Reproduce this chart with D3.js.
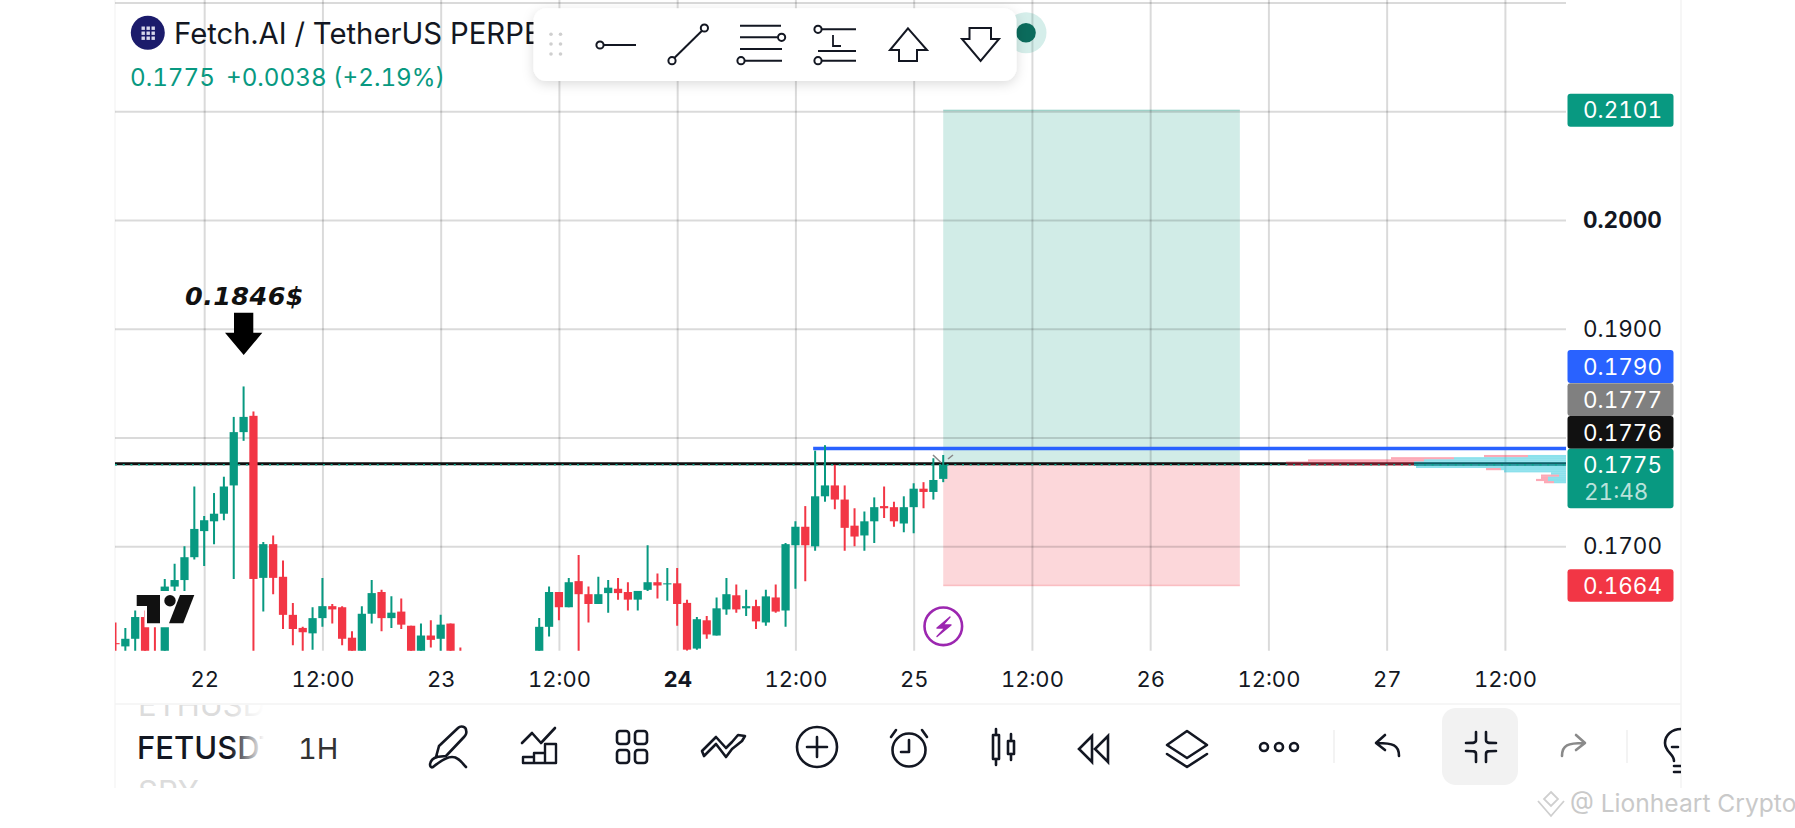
<!DOCTYPE html>
<html>
<head>
<meta charset="utf-8">
<style>
  html, body { margin: 0; padding: 0; background: #fff; overflow: hidden; }
  text { font-family: Inter, Roboto, sans-serif; font-feature-settings: 'tnum'; }
</style>
<script src="https://cdn.jsdelivr.net/npm/d3@7"></script>
</head>
<body>
<svg id="chart" width="1795" height="828"></svg>
<script>
// hours counted from 22nd 00:00, one candle per hour
const candleHours = [
  -9,-8,-7,-6,-5,-4,-3,-2,-1,0,
  1,2,3,4,5,6,7,8,9,10,
  11,12,13,14,15,16,17,18,19,20,
  21,22,23,24,25,26,34,35,36,37,
  38,39,40,41,42,43,44,45,46,47,
  48,49,50,51,52,53,54,55,56,57,
  58,59,60,61,62,63,64,65,66,67,
  68,69,70,71,72,73,74,75
]
const candleOpen = [
  .1611,.1608,.1615,.1635,.1634,.1600,.1663,.1669,.1690,.1714,
  .1723,.1730,.1756,.1805,.1820,.1671,.1702,.1672,.1637,.1625,
  .1620,.1634,.1645,.1644,.1616,.1600,.1638,.1658,.1634,.1640,
  .1627,.1600,.1618,.1615,.1629,.1600,.1600,.1626,.1658,.1644,
  .1668,.1656,.1647,.1657,.1661,.1658,.1651,.1660,.1667,.1665,
  .1666,.1648,.1606,.1632,.1618,.1642,.1655,.1643,.1645,.1630,
  .1653,.1641,.1701,.1718,.1700,.1746,.1756,.1743,.1719,.1710,
  .1723,.1737,.1736,.1721,.1736,.1753,.1750,.1762
]
const candleHigh = [
  .1630,.1625,.1641,.1641,.1635,.1670,.1684,.1700,.1755,.1728,
  .1749,.1764,.1819,.1847,.1824,.1704,.1710,.1687,.1648,.1626,
  .1644,.1671,.1647,.1645,.1622,.1645,.1669,.1660,.1654,.1652,
  .1627,.1629,.1632,.1637,.1629,.1607,.1634,.1663,.1658,.1671,
  .1692,.1663,.1672,.1669,.1671,.1667,.1659,.1701,.1675,.1680,
  .1680,.1651,.1635,.1636,.1653,.1671,.1665,.1660,.1651,.1660,
  .1665,.1703,.1723,.1737,.1788,.1793,.1775,.1756,.1735,.1732,
  .1745,.1755,.1741,.1746,.1758,.1759,.1781,.1784
]
const candleLow = [
  .1600,.1600,.1600,.1598,.1600,.1598,.1658,.1659,.1688,.1682,
  .1702,.1724,.1670,.1797,.1598,.1640,.1656,.1624,.1609,.1600,
  .1605,.1626,.1629,.1609,.1598,.1598,.1629,.1622,.1625,.1624,
  .1598,.1598,.1607,.1600,.1598,.1590,.1598,.1617,.1632,.1644,
  .1600,.1630,.1647,.1639,.1651,.1641,.1641,.1659,.1652,.1650,
  .1627,.1604,.1605,.1615,.1618,.1637,.1639,.1636,.1624,.1627,
  .1639,.1626,.1661,.1668,.1696,.1741,.1734,.1696,.1700,.1696,
  .1703,.1726,.1718,.1713,.1712,.1735,.1743,.1759
]
const candleClose = [
  .1610,.1615,.1635,.1600,.1628,.1663,.1669,.1690,.1716,.1724,
  .1730,.1755,.1805,.1819,.1670,.1702,.1671,.1637,.1624,.1621,
  .1634,.1645,.1642,.1615,.1600,.1638,.1657,.1634,.1639,.1628,
  .1600,.1618,.1614,.1628,.1600,.1595,.1626,.1658,.1644,.1667,
  .1656,.1647,.1656,.1662,.1657,.1651,.1659,.1667,.1664,.1666,
  .1647,.1605,.1633,.1619,.1643,.1656,.1642,.1645,.1631,.1654,
  .1640,.1702,.1718,.1701,.1746,.1756,.1743,.1717,.1709,.1723,
  .1736,.1735,.1723,.1736,.1753,.1750,.1761,.1775
]

// axis
const timeTicks  = [0,12,24,36,48,60,72,84,96,108,120,132]
const timeLabels = ['22','12:00','23','12:00','24','12:00','25','12:00','26','12:00','27','12:00']
const gridPrices  = [0.17,0.18,0.19,0.20,0.21,0.22]
const priceTicks  = [0.17,0.19,0.20]
const boldPrice   = 0.20

// long position tool, horizontal lines
const positionHours = [75,105.1]
const targetPrice = 0.2101
const entryPrice  = 0.1776
const stopPrice   = 0.1664
const bluePrice   = 0.1790
const bluePriceStart = 61.8
const lastPrice   = 0.1775

// volume profile on the right
const profilePrices = [.1783,.1781,.1779,.1777,.1775,.1773,.1771,.1769,.1767,.1765,.1763,.1761,.1759]
const profileUp     = [38,112,142,152,152,150,65,62,15,7,18,18,12]
const profileDown   = [82,175,258,280,280,138,80,0,0,25,25,30,22]
const profilePoc    = .1775

// boxes on the price scale
const boxPrices = ['0.2101','0.1790','0.1777','0.1776','0.1775','0.1664']
const boxColors = ['#089981','#2962ff','#808080','#111111','#089981','#f23645']
const countdown = '21:48'

const upColor   = '#089981'
const downColor = '#f23645'
const gridColor = 'rgba(0,0,0,0.145)'
const ink = '#131722'

const plot = { left: 115, right: 1566, top: 0, bottom: 650.7 }

const xScale = d3.scaleLinear().domain([-9.05,138.2]).range([plot.left,plot.right])
const yScale = d3.scaleLinear().domain([0.16,0.22]).range([655.1,2.5])
const volScale = d3.scaleLinear().domain([0,300]).range([0,300])

const svg = d3.select('#chart')

const defs = svg.append('defs')
defs.append('clipPath').attr('id','plot-clip')
  .append('rect')
  .attr('x',plot.left).attr('y',plot.top)
  .attr('width',plot.right-plot.left).attr('height',plot.bottom-plot.top)
defs.append('clipPath').attr('id','title-clip')
  .append('rect').attr('x',100).attr('y',0).attr('width',434).attr('height',90)
defs.append('clipPath').attr('id','symbol-clip')
  .append('rect').attr('x',115).attr('y',705).attr('width',149).attr('height',83)
defs.append('clipPath').attr('id','bulb-clip')
  .append('rect').attr('x',1640).attr('y',720).attr('width',41).attr('height',60)

// the symbol names fade out at their right end
const fade = defs.append('linearGradient').attr('id','symbol-fade')
  .attr('gradientUnits','userSpaceOnUse').attr('x1',230).attr('x2',264).attr('y1',0).attr('y2',0)
fade.append('stop').attr('offset',0).attr('stop-color','#fff').attr('stop-opacity',0)
fade.append('stop').attr('offset',1).attr('stop-color','#fff').attr('stop-opacity',1)

defs.append('filter').attr('id','pop-shadow')
  .attr('x','-10%').attr('y','-30%').attr('width','120%').attr('height','170%')
  .append('feDropShadow').attr('dx',0).attr('dy',3).attr('stdDeviation',6)
  .attr('flood-color','#000').attr('flood-opacity',0.14)

// frame lines of the app
svg.append('line').attr('x1',115).attr('x2',115).attr('y1',0).attr('y2',788).attr('stroke','#f6f6f6').attr('stroke-width',1.5)
svg.append('line').attr('x1',1681).attr('x2',1681).attr('y1',0).attr('y2',788).attr('stroke','#f3f3f3').attr('stroke-width',1.5)
svg.append('line').attr('x1',115).attr('x2',1681).attr('y1',704).attr('y2',704).attr('stroke','#f3f3f3').attr('stroke-width',1.5)

const under = svg.append('g').attr('clip-path','url(#plot-clip)')

// position tool
under.append('rect')
  .attr('x',xScale(positionHours[0])).attr('width',xScale(positionHours[1])-xScale(positionHours[0]))
  .attr('y',yScale(targetPrice)).attr('height',yScale(entryPrice)-yScale(targetPrice))
  .attr('fill',upColor).attr('fill-opacity',0.19)
under.append('rect')
  .attr('x',xScale(positionHours[0])).attr('width',xScale(positionHours[1])-xScale(positionHours[0]))
  .attr('y',yScale(entryPrice)).attr('height',yScale(stopPrice)-yScale(entryPrice))
  .attr('fill',downColor).attr('fill-opacity',0.2)
under.append('line')
  .attr('x1',xScale(positionHours[0])).attr('x2',xScale(positionHours[1]))
  .attr('y1',yScale(targetPrice)).attr('y2',yScale(targetPrice))
  .attr('stroke',upColor).attr('stroke-opacity',0.25).attr('stroke-width',1.5)
under.append('line')
  .attr('x1',xScale(positionHours[0])).attr('x2',xScale(positionHours[1]))
  .attr('y1',yScale(stopPrice)).attr('y2',yScale(stopPrice))
  .attr('stroke',downColor).attr('stroke-opacity',0.25).attr('stroke-width',1.5)

// grid, through the axes
const gridX = svg.append('g')
  .attr('transform',`translate(0,${plot.bottom})`)
  .call(d3.axisBottom(xScale).tickValues(timeTicks).tickSize(-plot.bottom).tickFormat(''))
  .call(g => g.select('.domain').remove())
gridX.selectAll('.tick line').attr('stroke',gridColor).attr('stroke-width',2)

const gridY = svg.append('g')
  .attr('transform',`translate(${plot.left},0)`)
  .call(d3.axisLeft(yScale).tickValues(gridPrices).tickSize(-(plot.right-plot.left)).tickFormat(''))
  .call(g => g.select('.domain').remove())
gridY.selectAll('.tick line').attr('stroke',gridColor).attr('stroke-width',2)

// time labels
const xAxis = svg.append('g')
  .attr('transform',`translate(0,${plot.bottom})`)
  .call(d3.axisBottom(xScale).tickValues(timeTicks).tickSize(0).tickFormat((d,i) => timeLabels[i]))
  .call(g => g.select('.domain').remove())
xAxis.selectAll('text')
  .attr('y',36).attr('dy',0)
  .style('font-size','22px')
  .style('fill',ink)
  .style('font-weight',d => d === 48 ? 700 : 400)

// price labels
const yAxis = svg.append('g')
  .attr('transform','translate(1583,0)')
  .call(d3.axisRight(yScale).tickValues(priceTicks).tickSize(0).tickPadding(0).tickFormat(d3.format('.4f')))
  .call(g => g.select('.domain').remove())
yAxis.selectAll('text')
  .style('font-size','22.5px')
  .style('fill',ink)
  .style('font-weight',d => d === boldPrice ? 700 : 400)

const chart = svg.append('g').attr('clip-path','url(#plot-clip)')

// black line, then the profile over it
chart.append('line')
  .attr('x1',plot.left).attr('x2',plot.right)
  .attr('y1',yScale(entryPrice)).attr('y2',yScale(entryPrice))
  .attr('stroke','#111').attr('stroke-width',3)

const rowHeight = yScale(0.1700)-yScale(0.1702)
chart.selectAll('.profile-down')
  .data(profilePrices)
  .join('rect')
  .attr('class','profile-down')
  .attr('x',(d,i) => plot.right-volScale(profileDown[i]))
  .attr('width',(d,i) => Math.max(0,volScale(profileDown[i])-volScale(profileUp[i])))
  .attr('y',d => yScale(d)-rowHeight/2)
  .attr('height',rowHeight)
  .attr('fill','#f73250').attr('fill-opacity',0.42)
chart.selectAll('.profile-up')
  .data(profilePrices)
  .join('rect')
  .attr('class','profile-up')
  .attr('x',(d,i) => plot.right-volScale(profileUp[i]))
  .attr('width',(d,i) => volScale(profileUp[i]))
  .attr('y',d => yScale(d)-rowHeight/2)
  .attr('height',rowHeight)
  .attr('fill',d => d === profilePoc ? '#26969f' : '#00bcd4')
  .attr('fill-opacity',d => d === profilePoc ? 1 : 0.45)

// last price dots
chart.append('line')
  .attr('x1',plot.left).attr('x2',plot.right)
  .attr('y1',yScale(lastPrice)).attr('y2',yScale(lastPrice))
  .attr('stroke','#0aa58c').attr('stroke-width',1.5).attr('stroke-dasharray','2 5.7')

// blue line
chart.append('line')
  .attr('x1',xScale(bluePriceStart)).attr('x2',plot.right)
  .attr('y1',yScale(bluePrice)).attr('y2',yScale(bluePrice))
  .attr('stroke','#2962ff').attr('stroke-width',3.5)

// candles
const bodyWidth = xScale(1)-xScale(0)-1.6
const candles = chart.append('g')
candles.selectAll('.wick')
  .data(candleHours)
  .join('line')
  .attr('class','wick')
  .attr('x1',d => xScale(d)).attr('x2',d => xScale(d))
  .attr('y1',(d,i) => yScale(candleHigh[i]))
  .attr('y2',(d,i) => yScale(candleLow[i]))
  .attr('stroke',(d,i) => candleClose[i] >= candleOpen[i] ? upColor : downColor)
  .attr('stroke-width',2)
candles.selectAll('.body')
  .data(candleHours)
  .join('rect')
  .attr('class','body')
  .attr('x',d => xScale(d)-bodyWidth/2)
  .attr('width',bodyWidth)
  .attr('y',(d,i) => yScale(Math.max(candleOpen[i],candleClose[i])))
  .attr('height',(d,i) => Math.abs(yScale(candleOpen[i])-yScale(candleClose[i])))
  .attr('fill',(d,i) => candleClose[i] >= candleOpen[i] ? upColor : downColor)

// small grey marks round the last candle
svg.append('path').attr('d','M933,455L941,462.5M948,459L953,455')
  .attr('stroke','#888').attr('stroke-width',1.6).attr('fill','none')

// tradingview logo with its white backing
svg.append('path').attr('d','M133,591H198V612L186,627.3H144.5V609.5H133Z').attr('fill','#fff')
const logo = svg.append('g').attr('fill','#111')
logo.append('path').attr('d','M136.7,595H160V623.3H147V606H136.7Z')
logo.append('circle').attr('cx',170).attr('cy',600.7).attr('r',5.7)
logo.append('path').attr('d','M180,595H194.3L183.3,623.3H169Z')

// note and arrow over the top
svg.append('text').text('0.1846$')
  .attr('x',185).attr('y',305)
  .style('font-family','"DejaVu Sans", sans-serif')
  .style('font-size','25.5px').style('font-weight',700).style('font-style','italic')
  .style('letter-spacing','0.4px').style('fill','#111')
svg.append('path').attr('d','M234,312.7H253.3V332.7H262.3L243.7,355L225,332.7H234Z').attr('fill','#000')

// lightning mark
svg.append('circle').attr('cx',943.3).attr('cy',626.3).attr('r',18.8)
  .attr('fill','#fff').attr('stroke','#9c27b0').attr('stroke-width',2.6)
svg.append('path').attr('d','M950,617L937,628H945L937,636.5L951,625H943Z')
  .attr('fill','#9c27b0').attr('stroke','#9c27b0').attr('stroke-width',1.4).attr('stroke-linejoin','round')

// price boxes stack on the scale
const boxes = svg.append('g')
const boxHeights = [33,33,32.7,32.7,59.6,32.4]
const boxY = [93.7,350,383.3,416,448.7,569.3]
boxPrices.forEach((label,i) => {
  const top = boxY[i]
  boxes.append('rect').attr('x',1567.5).attr('y',top).attr('width',106).attr('height',boxHeights[i])
    .attr('rx',3).attr('fill',boxColors[i])
  boxes.append('text').text(label).attr('x',1583).attr('y',top+24.5)
    .style('font-size','22.5px').style('fill','#fff')
})
boxes.append('text').text(countdown).attr('x',1584).attr('y',500)
  .style('font-size','22.5px').style('fill','#fff').style('fill-opacity',0.72)

// header
svg.append('circle').attr('cx',147.8).attr('cy',32.7).attr('r',17).attr('fill','#1b1b6b')
const headerDots = d3.range(9)
svg.append('g').selectAll('rect').data(headerDots).join('rect')
  .attr('x',d => 141.5+(d%3)*5).attr('y',d => 26.5+Math.floor(d/3)*5)
  .attr('width',3.4).attr('height',3.4).attr('fill','#d8d8ec')
svg.append('g').attr('clip-path','url(#title-clip)')
  .append('text').text('Fetch.AI / TetherUS PERPETUAL')
  .attr('x',174).attr('y',44)
  .style('font-size','29.3px').style('fill',ink)
svg.append('text').text('0.1775')
  .attr('x',130).attr('y',86).style('font-size','24.2px').style('fill','#089981')
svg.append('text').text('+0.0038 (+2.19%)')
  .attr('x',226).attr('y',86).style('font-size','24.2px').style('fill','#089981')

// green status dot behind the popup
svg.append('circle').attr('cx',1026).attr('cy',32.7).attr('r',20.5).attr('fill','#089981').attr('fill-opacity',0.17)
svg.append('circle').attr('cx',1026).attr('cy',32.7).attr('r',9.8).attr('fill','#0b6b5c')

// floating drawing popup
svg.append('rect').attr('x',533.5).attr('y',8.3).attr('width',483).attr('height',72.7).attr('rx',13)
  .attr('fill','#fff').attr('filter','url(#pop-shadow)')
const pop = svg.append('g').attr('fill','none').attr('stroke','#131722').attr('stroke-width',2)
const dragDots = [[551,34.3],[560.5,34.3],[551,44],[560.5,44],[551,54],[560.5,54]]
svg.append('g').selectAll('circle').data(dragDots).join('circle')
  .attr('cx',d => d[0]).attr('cy',d => d[1]).attr('r',1.8).attr('fill','#cfcfcf')
const popCircles = [[600,45],[672,60.7],[704.4,28],[781.6,37.3],[741,60.7],[818,29.3],[818,60.7]]
pop.selectAll('circle').data(popCircles).join('circle')
  .attr('cx',d => d[0]).attr('cy',d => d[1]).attr('r',3.6)
pop.append('path').attr('d','M603.6,45H636')
pop.append('path').attr('d','M674.3,58L702,30.8')
pop.append('path').attr('d','M740,25.7H781M740,37.3H777.6M740,49H782M745,60.7H782')
pop.append('path').attr('d','M822,29.3H856M818,51H856M822,60.7H856')
pop.append('path').attr('d','M833,35V46H841').attr('stroke-width',1.8)
pop.append('path').attr('d','M908,28.3L927,50H917V61H899V50H890Z').attr('stroke-linejoin','miter')
pop.append('path').attr('d','M969.5,28H991V39H999L980.6,61L962,39H969.5Z')

// bottom bar
const symbols = svg.append('g').attr('clip-path','url(#symbol-clip)')
symbols.append('text').text('ETHUSDT').attr('x',138).attr('y',716)
  .style('font-size','31px').style('fill','#dcdcdc')
symbols.append('text').text('FETUSDT').attr('x',137).attr('y',759)
  .style('font-size','31px').style('font-weight',500).style('fill','#131722')
symbols.append('text').text('SPY').attr('x',138).attr('y',803)
  .style('font-size','31px').style('fill','#dcdcdc')
symbols.append('rect').attr('x',230).attr('y',705).attr('width',34).attr('height',83).attr('fill','url(#symbol-fade)')
svg.append('text').text('1H').attr('x',298).attr('y',759)
  .style('font-size','29px').style('fill','#333')

svg.append('rect').attr('x',1442).attr('y',708).attr('width',76).attr('height',77).attr('rx',14).attr('fill','#f2f2f2')
svg.append('path').attr('d','M1334,730V763M1627,730V763').attr('stroke','#efefef').attr('stroke-width',1.5)

const icons = svg.append('g').attr('fill','none').attr('stroke','#131722').attr('stroke-width',2.6)
  .attr('stroke-linecap','round').attr('stroke-linejoin','round')
// pen
icons.append('path').attr('d','M436,757L439,746L458,728C461,725 466,727 466,730C467,733 466,735 464,737L446,756Z')
icons.append('path').attr('d','M437,757C428,760 429,769 433,767C438,763 445,757 452,757C459,757 462,763 466,767')
// chart with bars
icons.append('path').attr('d','M522,743L532,733L541,743L555,728')
icons.append('path').attr('d','M523,763V757H534V763M534,763V753H545V763M545,763V744H556V763H523').attr('stroke-width',2.4)
// four squares
icons.append('rect').attr('x',617).attr('y',731).attr('width',12).attr('height',13).attr('rx',3)
icons.append('rect').attr('x',635).attr('y',731).attr('width',12).attr('height',13).attr('rx',3)
icons.append('rect').attr('x',617).attr('y',750).attr('width',12).attr('height',13).attr('rx',3)
icons.append('rect').attr('x',635).attr('y',750).attr('width',12).attr('height',13).attr('rx',3)
// templates
icons.append('path').attr('d','M704,756L716,744L726,757L732,749L742,741M742,741L745,736L738,735L732,742L726,748L716,737L702,751L704,756')
// plus
icons.append('circle').attr('cx',817).attr('cy',747).attr('r',20)
icons.append('path').attr('d','M817,737V757M807,747H827')
// alarm
icons.append('circle').attr('cx',909).attr('cy',750).attr('r',16.5)
icons.append('path').attr('d','M909,740V752H901M891,737L896,730M927,737L922,730')
// candles
icons.append('rect').attr('x',993).attr('y',735).attr('width',6).attr('height',24)
icons.append('rect').attr('x',1008).attr('y',741).attr('width',6).attr('height',13)
icons.append('path').attr('d','M996,729V735M996,759V765M1011,734V741M1011,754V760')
// rewind
icons.append('path').attr('d','M1092,736L1079,749L1092,762ZM1108,736L1095,749L1108,762Z').attr('stroke-linejoin','miter')
// layers
icons.append('path').attr('d','M1187,731L1207,745L1187,758L1167,745Z')
icons.append('path').attr('d','M1167,754L1187,767L1207,754')
// dots
icons.selectAll('.more').data([1264,1279,1294]).join('circle').attr('class','more')
  .attr('cx',d => d).attr('cy',747).attr('r',4)
// undo
icons.append('path').attr('d','M1399,756C1399,745 1393,743 1377,743M1385,735L1376,743L1385,750')
// collapse
icons.append('path').attr('d','M1476,732V740C1476,743 1474,743 1466,743M1486,732V740C1486,743 1488,743 1496,743M1476,762V754C1476,751 1474,751 1466,751M1486,762V754C1486,751 1488,751 1496,751')
// redo
icons.append('path').attr('d','M1562,756C1562,745 1568,743 1584,743M1576,735L1585,743L1576,750').attr('stroke','#8a8a8a')
// bulb, cut by the bar edge
icons.append('path').attr('clip-path','url(#bulb-clip)')
  .attr('d','M1674,761C1674,754 1665,752 1665,743C1665,735 1672,729 1681,729C1690,729 1696,735 1696,743M1674,766H1690M1674,772H1690M1672,747H1678')

// watermark
const mark = svg.append('g').attr('fill','none').attr('stroke','#cfcfcf').attr('stroke-width',1.8)
mark.append('path').attr('d','M1551,792L1558,799L1551,806L1544,799ZM1538,801L1551,816L1564,801')
svg.append('text').text('@ Lionheart Crypto').attr('x',1570).attr('y',812)
  .style('font-size','24.6px').style('font-feature-settings','normal').style('fill','#c9c9c9')
</script>
</body>
</html>
